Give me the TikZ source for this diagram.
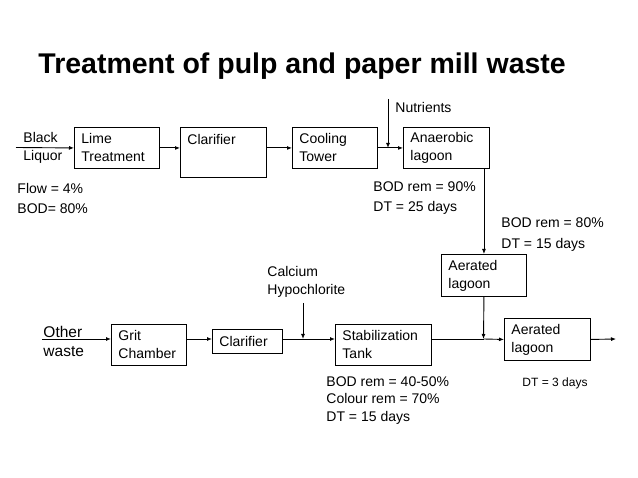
\documentclass[tikz,border=0pt]{standalone}
\usepackage{fontspec}
\setmainfont{Liberation Sans}
\usetikzlibrary{arrows.meta,positioning}

\begin{document}
\begin{tikzpicture}[
  x=1pt,y=-1pt,
  font=\fontsize{14}{18}\selectfont,
  line width=0.9pt,
  unit/.style={rectangle,draw=black,line width=0.9pt,align=left,
               anchor=north west,inner xsep=7pt,inner ysep=3pt},
  note/.style={anchor=west,align=left,inner sep=0pt},
  flow/.style={-{Latex[length=5pt,width=4pt]}}
]
\useasboundingbox (0,0) rectangle (638,478);

% --- Title
\node[anchor=base west,inner sep=0pt,font=\fontsize{28.5}{32}\selectfont\bfseries]
   (title) at (38,74) {Treatment of pulp and paper mill waste};

% --- Upper line: black liquor
\node[unit,text width=71pt,minimum height=41pt] (lime) at (74,127) {Lime\\Treatment};
\node[unit,text width=72pt,minimum height=50pt,text depth=26pt] (clarA) at (180,127) {Clarifier};
\node[unit,text width=71pt,minimum height=41pt] (cool) at (292,127) {Cooling\\Tower};
\node[unit,text width=72pt,minimum height=41pt] (anaer) at (403,127) {Anaerobic\\lagoon};
\node[unit,text width=71pt,minimum height=42pt] (aerA) at (441,254) {Aerated\\lagoon};

\node[note] (black) at (23,148) {Black\\Liquor};
\node[note] (nutr) at (395,107) {Nutrients};
\node[note,font=\fontsize{14}{20}\selectfont] (flowA) at (17,198) {Flow = 4\%\\BOD= 80\%};
\node[note,font=\fontsize{14}{20}\selectfont] (remA) at (373,198) {BOD rem = 90\%\\DT = 25 days};
\node[note,font=\fontsize{14}{21}\selectfont] (remB) at (501,234.5) {BOD rem = 80\%\\DT = 15 days};

\coordinate (blackIn) at (16,147.5);
\coordinate (nutrTop) at (388,99);
\draw[flow] (blackIn) -- (lime.west);
\draw[flow] (lime.east) -- (lime.east -| clarA.west);
\draw[flow] (clarA.east |- cool.west) -- (cool.west);
\draw[flow] (cool.east) -- (anaer.west);
\draw[flow] (nutrTop) -- (nutrTop |- anaer.west);
\draw[flow] (aerA.north |- anaer.south) -- (aerA.north);

% --- Lower line: other waste
\node[unit,text width=61pt,minimum height=41pt] (grit) at (111,324) {Grit\\Chamber};
\node[unit,text width=56pt,minimum height=24pt] (clarB) at (212,329) {Clarifier};
\node[unit,text width=82pt,minimum height=41pt] (stab) at (335,324) {Stabilization\\Tank};
\node[unit,text width=72pt,minimum height=42pt] (aerB) at (504,318) {Aerated\\lagoon};

\node[note,font=\fontsize{15.5}{19}\selectfont] (other) at (43,341.5) {Other\\waste};
\node[note] (calc) at (267,281.5) {Calcium\\Hypochlorite};
\node[note,font=\fontsize{14}{17.5}\selectfont] (remC) at (326,400.5)
     {BOD rem = 40-50\%\\Colour rem = 70\%\\DT = 15 days};
\node[font=\fontsize{12}{14}\selectfont,inner sep=0pt] (dtB) at (555,383) {DT = 3 days};

\coordinate (otherIn) at (42,339);
\coordinate (calcTop) at (303,303);
\coordinate (joinCl) at (303,339);
\coordinate (joinAe) at (483.5,339);
\coordinate (outlet) at (616,339);
\draw[flow] (otherIn) -- (otherIn -| grit.west);
\draw[flow] (otherIn -| grit.east) -- (otherIn -| clarB.west);
\draw (otherIn -| clarB.east) -- (joinCl);
\draw[flow] (calcTop) -- (joinCl);
\draw[flow] (joinCl) -- (joinCl -| stab.west);
\draw (joinCl -| stab.east) -- (joinAe);
\draw[flow] (aerA.south) -- (joinAe);
\draw[flow] (joinAe) -- (aerB.west);
\draw[flow] (aerB.east) -- (outlet);
\end{tikzpicture}
\end{document}
